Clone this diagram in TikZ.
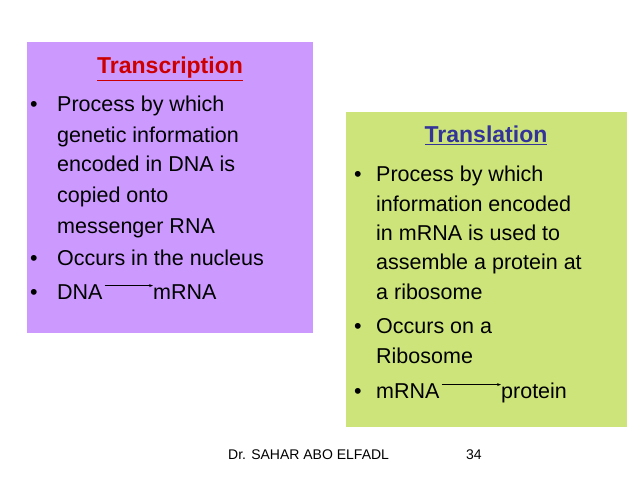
\documentclass[tikz,border=0pt]{standalone}
\usepackage{fontspec}
\setmainfont{Liberation Sans}
\usetikzlibrary{arrows.meta}
\definecolor{lav}{RGB}{204,153,255}
\definecolor{lime}{RGB}{204,228,122}
\definecolor{tred}{RGB}{204,0,0}
\definecolor{tblue}{RGB}{51,51,153}
\begin{document}
\begin{tikzpicture}[x=1pt,y=-1pt,
  txt/.style={anchor=base west,inner sep=0pt,font=\fontsize{21.5}{24}\selectfont},
  ttl/.style={anchor=base,inner sep=0pt,font=\fontsize{23}{26}\selectfont\bfseries},
  arr/.style={-{Stealth[length=4pt,width=3pt]},line width=0.6pt}]
\useasboundingbox (0,0) rectangle (638,478);
\fill[white] (0,0) rectangle (638,478);
\fill[lav] (27,42) rectangle (313,333);
\fill[lime] (346,112) rectangle (627,427);
\node[ttl,text=tred] (t1) at (170,74) {\underline{Transcription}};
\foreach \y/\b/\t [count=\i] in {112/1/Process by which,143/0/genetic information,172/0/encoded in DNA is,203/0/copied onto,234/0/messenger RNA,266/1/Occurs in the nucleus}{
  \node[txt] (l\i) at (57,\y) {\t};
  \ifnum\b=1 \node[txt] (lb\i) at (30,\y) {•};\fi
}
\node[txt] (lb7) at (30,300) {•};
\node[txt] (dna) at (57,300) {DNA};
\node[txt] (mrna1) at (153,300) {mRNA};
\draw[arr] (dna.east) ++(2,-7) coordinate (a1) -- (a1 -| mrna1.west);
\node[ttl,text=tblue] (t2) at (486,143) {\underline{Translation}};
\foreach \y/\b/\t [count=\i] in {182/1/Process by which,212/0/information encoded,241/0/in mRNA is used to,270/0/assemble a protein at,300/0/a ribosome,334/1/Occurs on a,364/0/Ribosome}{
  \node[txt] (r\i) at (376,\y) {\t};
  \ifnum\b=1 \node[txt] (rb\i) at (354,\y) {•};\fi
}
\node[txt] (rb8) at (354,399) {•};
\node[txt] (mrna2) at (376,399) {mRNA};
\node[txt] (prot) at (501,399) {protein};
\draw[arr] (mrna2.east) ++(2,-7) coordinate (a2) -- (a2 -| prot.west);
\node[anchor=base west,inner sep=0pt,font=\fontsize{14}{16}\selectfont] (foot) at (228,460) {Dr. SAHAR ABO ELFADL};
\node[anchor=base west,inner sep=0pt,font=\fontsize{14}{16}\selectfont] (pg) at (466,460) {34};
\end{tikzpicture}
\end{document}
